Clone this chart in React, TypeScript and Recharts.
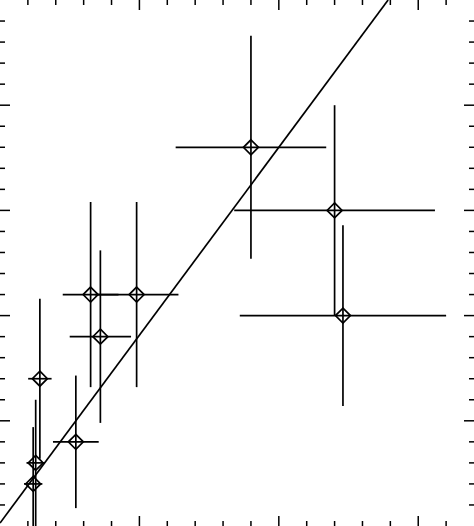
import { ComposedChart, Scatter, Line, XAxis, YAxis, ErrorBar } from 'recharts'

// points (x, y and their error half-widths)
const xs = [0.9, 1.2, 1.23, 0.325, 0.49, 0.36, 0.143, 0.128, 0.119, 0.272]
const ys = [1.8, 1.5, 1.0, 1.1, 1.1, 0.9, 0.7, 0.3, 0.2, 0.4]
const xErrs = [0.27, 0.36, 0.37, 0.1, 0.15, 0.11, 0.042, 0.033, 0.033, 0.082]
const yErrLo = [0.53, 0.5, 0.43, 0.44, 0.44, 0.41, 0.38, 0.3, 0.27, 0.315]
const yErrHi = [0.53, 0.5, 0.43, 0.44, 0.44, 0.41, 0.38, 0.3, 0.27, 0.315]

// fitted line end points
const lineX = [0, 1.392]
const lineY = [0.014, 2.5]

const xTicks = [0.1, 0.2, 0.3, 0.4, 0.5, 0.6, 0.7, 0.8, 0.9, 1.0, 1.1, 1.2, 1.3, 1.4, 1.5, 1.6]
const yTicks = [0.1, 0.2, 0.3, 0.4, 0.5, 0.6, 0.7, 0.8, 0.9, 1.0, 1.1, 1.2, 1.3, 1.4, 1.5, 1.6, 1.7, 1.8, 1.9, 2.0, 2.1, 2.2, 2.3, 2.4]

const points = xs.map((x, i) => ({ x, y: ys[i], ex: xErrs[i], ey: [yErrLo[i], yErrHi[i]] }))
const fit = lineX.map((x, i) => ({ x, y: lineY[i] }))

const W = 474
const H = 526

const isMajor = (v: number) => Math.abs(v * 2 - Math.round(v * 2)) < 1e-6
const len = (v: number) => (isMajor(v) ? 10 : 5)

// inward pointing ticks, one per side
const TickBottom = (p: any) => <line x1={p.x} x2={p.x} y1={p.y} y2={p.y - len(p.payload.value)} stroke="#000" strokeWidth={1.5} />
const TickTop = (p: any) => <line x1={p.x} x2={p.x} y1={p.y} y2={p.y + len(p.payload.value)} stroke="#000" strokeWidth={1.5} />
const TickLeft = (p: any) => <line x1={p.x} x2={p.x + len(p.payload.value)} y1={p.y} y2={p.y} stroke="#000" strokeWidth={1.5} />
const TickRight = (p: any) => <line x1={p.x} x2={p.x - len(p.payload.value)} y1={p.y} y2={p.y} stroke="#000" strokeWidth={1.5} />

const Diamond = (p: any) => {
  const { cx, cy } = p
  const r = 7.5
  return (
    <polygon
      points={`${cx},${cy - r} ${cx + r},${cy} ${cx},${cy + r} ${cx - r},${cy}`}
      fill="none" stroke="#000" strokeWidth={1.7}
    />
  )
}

export default function App() {
  return (
    <div style={{ position: 'absolute', left: 0, top: 0, width: W, height: H, background: '#fff', overflow: 'hidden' }}>
      <ComposedChart width={W} height={H} margin={{ top: -1, right: -1, bottom: -1, left: -1 }}>
        <XAxis xAxisId="b" dataKey="x" type="number" domain={[0, 1.7]} allowDataOverflow ticks={xTicks} interval={0}
          orientation="bottom" height={1} tickSize={0} tickMargin={0} axisLine={false} tickLine={false} tick={TickBottom} />
        <XAxis xAxisId="t" dataKey="x" type="number" domain={[0, 1.7]} allowDataOverflow ticks={xTicks} interval={0}
          orientation="top" height={1} tickSize={0} tickMargin={0} axisLine={false} tickLine={false} tick={TickTop} />
        <YAxis yAxisId="l" dataKey="y" type="number" domain={[0, 2.5]} allowDataOverflow ticks={yTicks} interval={0}
          orientation="left" width={1} tickSize={0} tickMargin={0} axisLine={false} tickLine={false} tick={TickLeft} />
        <YAxis yAxisId="r" dataKey="y" type="number" domain={[0, 2.5]} allowDataOverflow ticks={yTicks} interval={0}
          orientation="right" width={1} tickSize={0} tickMargin={0} axisLine={false} tickLine={false} tick={TickRight} />
        <Line xAxisId="b" yAxisId="l" data={fit} dataKey="y" stroke="#000" strokeWidth={1.7} dot={false}
          type="linear" isAnimationActive={false} />
        <Scatter xAxisId="b" yAxisId="l" data={points} dataKey="y" shape={Diamond} isAnimationActive={false}>
          <ErrorBar dataKey="ex" direction="x" width={0} stroke="#000" strokeWidth={1.7} isAnimationActive={false} />
          <ErrorBar dataKey="ey" direction="y" width={0} stroke="#000" strokeWidth={1.7} isAnimationActive={false} />
        </Scatter>
      </ComposedChart>
    </div>
  )
}
